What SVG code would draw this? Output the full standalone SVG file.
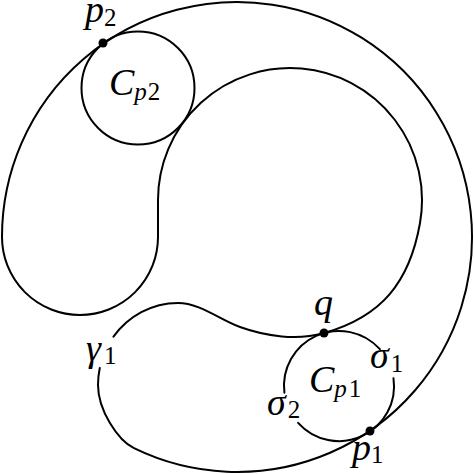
<svg xmlns="http://www.w3.org/2000/svg" width="474" height="474" viewBox="0 0 474 474">
<style>
.ln{fill:none;stroke:#000;stroke-width:2;stroke-linecap:round;stroke-linejoin:round}
.dot{fill:#000}
text{font-family:"Liberation Serif","DejaVu Serif",serif;font-style:italic;font-size:38px;fill:#000}
.sub{font-size:25px}
.num{font-style:normal}
</style>
<rect width="474" height="474" fill="#fff"/>
<g id="curve-gamma1">
<path class="ln" d="M134 448.2 A235 235 0 1 0 2 237 A78 78 0 0 0 158 237 L158 200 A132 132 0 1 1 420 223 C409.6 282.1 381.7 316.7 324 333 C297.1 340.6 266.3 336.5 240 327 C219.3 319.5 200 303 178 303 C151.6 303 128.08 316.32 113.49 336.7 M99.77 367.92 C98.61 373.44 98 379.15 98 385 C98 410 117.8 440.3 134 448.2"/>
</g>
<g id="circle-Cp2">
<circle class="ln" cx="138" cy="88" r="56.5"/>
</g>
<g id="circle-Cp1">
<path class="ln" d="M393.5 378.3 A55 55 0 0 1 298.1 422.8 M284.4 392.7 A55 55 0 0 1 379.9 349.2"/>
</g>
<g id="point-p2"><circle class="dot" cx="103" cy="43" r="4.5"/></g>
<g id="point-q"><circle class="dot" cx="324" cy="333" r="4.5"/></g>
<g id="point-p1"><circle class="dot" cx="370" cy="431" r="4.5"/></g>
<g id="labels">
<text x="85" y="22">p<tspan class="sub num" dy="4">2</tspan></text>
<text x="109" y="95">C<tspan class="sub" dy="5">p</tspan><tspan class="sub num" dx="1">2</tspan></text>
<text x="86" y="361">γ<tspan class="sub num" x="104" dy="3">1</tspan></text>
<text x="314" y="315">q</text>
<text x="370" y="368">σ<tspan class="sub num" dx="2" dy="4">1</tspan></text>
<text x="309" y="392">C<tspan class="sub" dy="5">p</tspan><tspan class="sub num" dx="2">1</tspan></text>
<text x="267" y="415">σ<tspan class="sub num" dx="2" dy="3">2</tspan></text>
<text x="352" y="460">p<tspan class="sub num" dy="3">1</tspan></text>
</g>
</svg>
